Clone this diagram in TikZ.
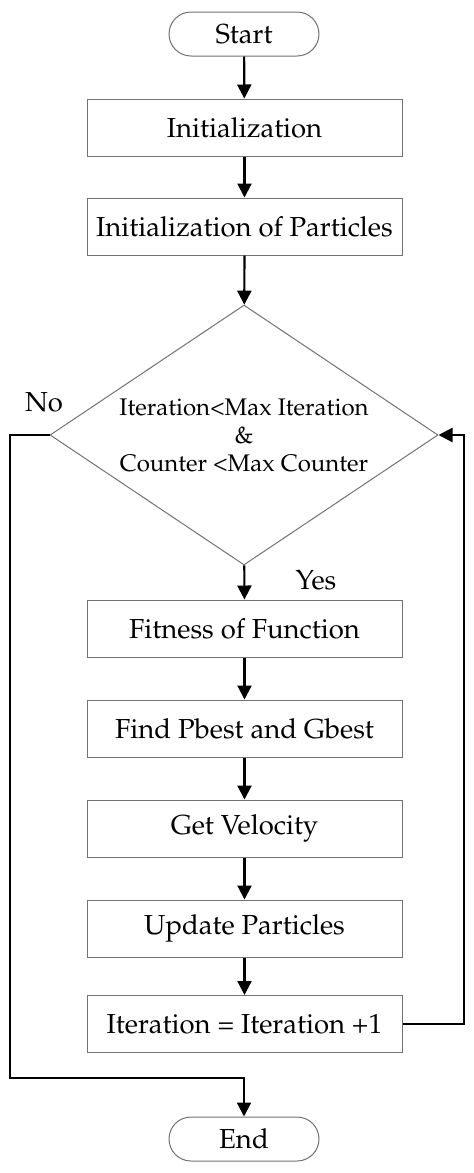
\documentclass[tikz,border=0pt]{standalone}
\usepackage[T1]{fontenc}
\usepackage{mathpazo}
\usetikzlibrary{arrows.meta,shapes.geometric}
\begin{document}
\begin{tikzpicture}[x=1pt,y=-1pt,
  box/.style={draw=black!55,line width=1pt,fill=white,minimum width=315pt,minimum height=57pt,inner sep=0pt,font=\fontsize{27.5}{33}\selectfont},
  term/.style={draw=black!55,line width=1pt,fill=white,rounded corners=22pt,minimum width=150pt,minimum height=44pt,inner sep=0pt,font=\fontsize{27.5}{33}\selectfont},
  decis/.style={draw=black!55,line width=1pt,fill=white,diamond,aspect=1.49,minimum width=388pt,minimum height=260pt,inner sep=0pt,align=center,font=\fontsize{24}{28}\selectfont},
  lbl/.style={font=\fontsize{27.5}{33}\selectfont,inner sep=0pt},
  arr/.style={line width=2.2pt,-{Triangle[length=14pt,width=14pt]}}]
\useasboundingbox (0,0) rectangle (474,1173);
\node[term] (start) at (244,34) {Start};
\node[box] (init) at (244.5,127.5) {Initialization};
\node[box] (initp) at (244.5,226.5) {Initialization of Particles};
\node[decis] (dec) at (244,435) {Iteration<Max Iteration\\\&\\Counter <Max Counter};
\node[box] (fit) at (244.5,628.5) {Fitness of Function};
\node[box] (find) at (244.5,728.5) {Find Pbest and Gbest};
\node[box] (vel) at (244.5,828.5) {Get Velocity};
\node[box] (upd) at (244.5,928.5) {Update Particles};
\node[box] (iter) at (244.5,1024) {Iteration = Iteration +1};
\node[term] (end) at (244,1139) {End};
\node[lbl] (no) at (44,402) {No};
\node[lbl] (yes) at (316,580) {Yes};
\coordinate (rt) at (464,435);
\coordinate (lb) at (10,1078);
\draw[arr] (start) -- (init);
\draw[arr] (init) -- (initp);
\draw[arr] (initp) -- (dec);
\draw[arr] (dec) -- (fit);
\draw[arr] (fit) -- (find);
\draw[arr] (find) -- (vel);
\draw[arr] (vel) -- (upd);
\draw[arr] (upd) -- (iter);
\draw[arr] (iter.east) -| (rt) -- (dec.east);
\draw[arr] (dec.west) -| (lb) -| (end.north);
\end{tikzpicture}
\end{document}
